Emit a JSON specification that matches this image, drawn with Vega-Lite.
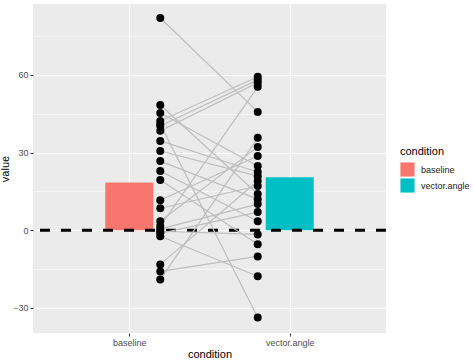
{
  "$schema": "https://vega.github.io/schema/vega-lite/v6.json",
  "width": 353,
  "height": 329,
  "autosize": "none",
  "padding": {"left": 33, "top": 4, "right": 88, "bottom": 31},
  "background": "white",
  "config": {
    "view": {"fill": "#EBEBEB", "stroke": null},
    "font": "Liberation Sans",
    "axis": {
      "domain": false,
      "gridColor": "white",
      "tickColor": "#333333",
      "tickSize": 3,
      "labelColor": "#4D4D4D",
      "labelFontSize": 9,
      "labelPadding": 2,
      "titleColor": "black",
      "titleFontSize": 11,
      "titleFontWeight": "normal"
    }
  },
  "datasets": {
    "means": [
      {"condition": "baseline", "value": 18.4},
      {"condition": "vector.angle", "value": 20.5}
    ],
    "pairs": [
      {"subject": 1, "baseline": 82, "vector_angle": 45.7},
      {"subject": 2, "baseline": 48.4, "vector_angle": 14.0},
      {"subject": 3, "baseline": 45.3, "vector_angle": 24.8},
      {"subject": 4, "baseline": 42.2, "vector_angle": 59.3},
      {"subject": 5, "baseline": 41.0, "vector_angle": -33.7},
      {"subject": 6, "baseline": 40.3, "vector_angle": 58.1},
      {"subject": 7, "baseline": 38.4, "vector_angle": 57.0},
      {"subject": 8, "baseline": 34.5, "vector_angle": 22.5},
      {"subject": 9, "baseline": 30.6, "vector_angle": 20.9},
      {"subject": 10, "baseline": 26.7, "vector_angle": 12.0},
      {"subject": 11, "baseline": 22.9, "vector_angle": 3.5},
      {"subject": 12, "baseline": 19.4, "vector_angle": -5.4},
      {"subject": 13, "baseline": 11.6, "vector_angle": 28.7},
      {"subject": 14, "baseline": 8.5, "vector_angle": 17.1},
      {"subject": 15, "baseline": 3.5, "vector_angle": 32.2},
      {"subject": 16, "baseline": 1.6, "vector_angle": 55.4},
      {"subject": 17, "baseline": 0.5, "vector_angle": 10.1},
      {"subject": 18, "baseline": -0.4, "vector_angle": -1.6},
      {"subject": 19, "baseline": -1.2, "vector_angle": 7.0},
      {"subject": 20, "baseline": -2.3, "vector_angle": -17.8},
      {"subject": 21, "baseline": -13.2, "vector_angle": 19.0},
      {"subject": 22, "baseline": -15.9, "vector_angle": -10.1},
      {"subject": 23, "baseline": -19.0, "vector_angle": 35.7}
    ]
  },
  "layer": [
    {
      "data": {"name": "means"},
      "mark": {"type": "bar", "width": 48},
      "encoding": {
        "x": {
          "field": "condition", "type": "nominal",
          "scale": {"type": "point", "domain": ["baseline", "vector.angle"], "padding": 0.6},
          "axis": {"title": "condition", "labelAngle": 0, "grid": true, "gridWidth": 1.1, "titlePadding": 1}
        },
        "y": {
          "field": "value", "type": "quantitative",
          "scale": {"domain": [-39.7, 87.4], "nice": false, "zero": false},
          "axis": {
            "title": "value",
            "values": [-30, -15, 0, 15, 30, 45, 60, 75],
            "labelExpr": "datum.value % 30 === 0 ? datum.label : ''",
            "tickOpacity": {"condition": {"test": "datum.value % 30 === 0", "value": 1}, "value": 0},
            "gridWidth": {"condition": {"test": "datum.value % 30 === 0", "value": 1.1}, "value": 0.5},
            "titlePadding": 2
          }
        },
        "color": {
          "field": "condition", "type": "nominal",
          "scale": {"domain": ["baseline", "vector.angle"], "range": ["#F8766D", "#00BFC4"]},
          "legend": {
            "orient": "none", "legendX": 367, "legendY": 142,
            "title": "condition", "titleFontSize": 11, "titleFontWeight": "normal", "titleColor": "black",
            "labelFontSize": 9, "labelColor": "#1A1A1A",
            "symbolType": "square", "symbolSize": 200, "symbolStrokeWidth": 0, "symbolOpacity": 1,
            "rowPadding": 1, "labelOffset": 6, "titlePadding": 5
          }
        }
      }
    },
    {
      "data": {"values": [{}]},
      "mark": {"type": "rule", "color": "black", "strokeWidth": 2.8, "strokeDash": [10, 11]},
      "encoding": {"y": {"datum": 0, "type": "quantitative"}}
    },
    {
      "data": {"name": "pairs"},
      "mark": {"type": "rule", "color": "#BEBEBE", "strokeWidth": 1.2, "xOffset": 31, "x2Offset": -32},
      "encoding": {
        "x": {"datum": "baseline", "type": "nominal", "axis": {"title": "condition"}},
        "x2": {"datum": "vector.angle"},
        "y": {"field": "baseline", "type": "quantitative", "axis": {"title": "value"}},
        "y2": {"field": "vector_angle"}
      }
    },
    {
      "data": {"name": "pairs"},
      "mark": {"type": "circle", "color": "black", "opacity": 1, "size": 64, "xOffset": 31},
      "encoding": {
        "x": {"datum": "baseline", "type": "nominal", "axis": {"title": "condition"}},
        "y": {"field": "baseline", "type": "quantitative", "axis": {"title": "value"}}
      }
    },
    {
      "data": {"name": "pairs"},
      "mark": {"type": "circle", "color": "black", "opacity": 1, "size": 64, "xOffset": -32},
      "encoding": {
        "x": {"datum": "vector.angle", "type": "nominal", "axis": {"title": "condition"}},
        "y": {"field": "vector_angle", "type": "quantitative", "axis": {"title": "value"}}
      }
    }
  ]
}
